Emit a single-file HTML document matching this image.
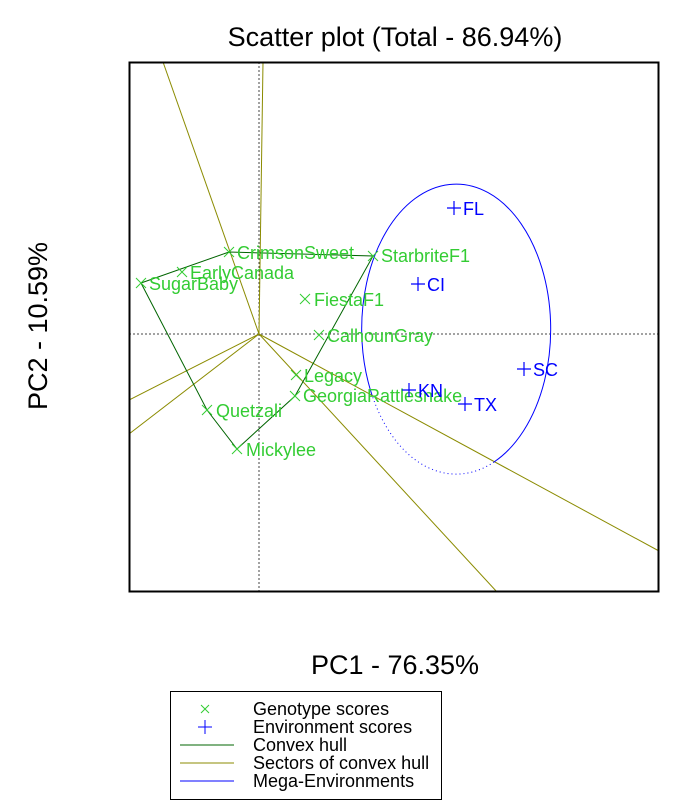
<!DOCTYPE html>
<html><head><meta charset="utf-8"><style>body{margin:0;background:#fff}svg{display:block}</style></head><body>
<svg width="679" height="810" xmlns="http://www.w3.org/2000/svg" font-family="Liberation Sans, sans-serif">
<rect width="679" height="810" fill="#fff"/>
<text x="395" y="46" font-size="27" text-anchor="middle">Scatter plot (Total - 86.94%)</text>
<text x="395" y="674" font-size="27" text-anchor="middle">PC1 - 76.35%</text>
<text transform="translate(47,326) rotate(-90)" font-size="27" text-anchor="middle">PC2 - 10.59%</text>
<defs><clipPath id="c"><rect x="129" y="62" width="530" height="530"/></clipPath></defs>
<g clip-path="url(#c)">
<line x1="259" y1="62" x2="259" y2="592" stroke="#444" stroke-dasharray="2,2"/>
<line x1="129" y1="334" x2="659" y2="334" stroke="#444" stroke-dasharray="2,2"/>
<g stroke="#8b8b00" stroke-width="1" fill="none">
<line x1="259" y1="334" x2="163" y2="62"/>
<line x1="259" y1="334" x2="263" y2="62"/>
<line x1="259" y1="334" x2="129" y2="400"/>
<line x1="259" y1="334" x2="129" y2="434"/>
<line x1="259" y1="334" x2="659" y2="551"/>
<line x1="259" y1="334" x2="497" y2="592"/>
</g>
<polygon points="141,283 229,252 373,256 295,396 237,449 207,410" fill="none" stroke="#006400"/>
<path d="M372,395 A94.5,145 0 1 1 494,462" fill="none" stroke="#0000ff"/>
<path d="M494,462 A94.5,145 0 0 1 372,395" fill="none" stroke="#0000ff" stroke-dasharray="1,3"/>
</g>
<rect x="129.5" y="62.5" width="529" height="529" fill="none" stroke="#000" stroke-width="2"/>
<g stroke="#33cc33" stroke-width="1">
<path d="M136,278l10,10m0,-10l-10,10M224,247l10,10m0,-10l-10,10M177,267l10,10m0,-10l-10,10M368,251l10,10m0,-10l-10,10M300,294l10,10m0,-10l-10,10M314,330l10,10m0,-10l-10,10M291,370l10,10m0,-10l-10,10M290,391l10,10m0,-10l-10,10M202,405l10,10m0,-10l-10,10M232,444l10,10m0,-10l-10,10"/>
</g>
<g fill="#33cc33" font-size="18">
<text x="149" y="290">SugarBaby</text>
<text x="237" y="259">CrimsonSweet</text>
<text x="190" y="279">EarlyCanada</text>
<text x="381" y="262">StarbriteF1</text>
<text x="314" y="306">FiestaF1</text>
<text x="327" y="342">CalhounGray</text>
<text x="304" y="382">Legacy</text>
<text x="303" y="402">GeorgiaRattlesnake</text>
<text x="216" y="417">Quetzali</text>
<text x="246" y="456">Mickylee</text>
</g>
<g stroke="#0000ff" stroke-width="1.2">
<path d="M447,208h14M454,201v14M411,284h14M418,277v14M517,369h14M524,362v14M402,390h14M409,383v14M458,404h14M465,397v14"/>
</g>
<g fill="#0000ff" font-size="18">
<text x="463" y="215">FL</text>
<text x="427" y="291">CI</text>
<text x="533" y="376">SC</text>
<text x="418" y="397">KN</text>
<text x="474" y="411">TX</text>
</g>
<rect x="170.5" y="691.5" width="271" height="108" fill="none" stroke="#000"/>
<path d="M201,705l8,8m0,-8l-8,8" stroke="#33cc33"/>
<path d="M198,727h14M205,720v14" stroke="#0000ff"/>
<line x1="180" y1="745" x2="234" y2="745" stroke="#006400"/>
<line x1="180" y1="763" x2="234" y2="763" stroke="#8b8b00"/>
<line x1="180" y1="781" x2="234" y2="781" stroke="#0000ff"/>
<g font-size="18">
<text x="253" y="715">Genotype scores</text>
<text x="253" y="733">Environment scores</text>
<text x="253" y="751">Convex hull</text>
<text x="253" y="769">Sectors of convex hull</text>
<text x="253" y="787">Mega-Environments</text>
</g>
</svg>
</body></html>
